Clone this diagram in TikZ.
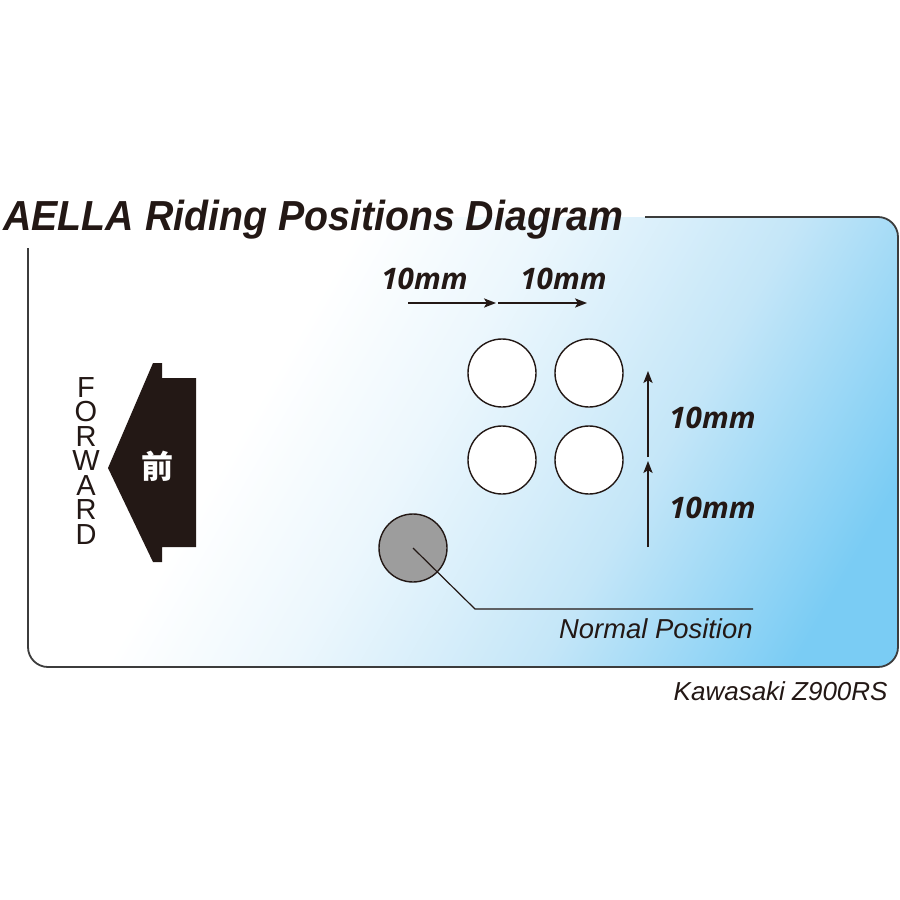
\documentclass[tikz,border=0pt]{standalone}
\usepackage{fontspec}
\usepackage{graphicx}
\usetikzlibrary{arrows.meta}
\setmainfont{Liberation Sans}
\newfontfamily\dimfont{Open Sans}
\newfontfamily\cjkfont{Noto Sans CJK JP}
\definecolor{skyblue}{RGB}{122,204,244}
\definecolor{midblue}{RGB}{196,230,248}
\definecolor{paleblue}{RGB}{215,238,250}
\definecolor{mistblue}{RGB}{236,247,253}
\definecolor{inkblack}{RGB}{35,24,21}
\definecolor{framegray}{RGB}{60,60,60}
\definecolor{normalgray}{RGB}{157,157,157}
\pgfdeclarehorizontalshading{boxglow}{100bp}{color(0bp)=(white); color(40bp)=(white); color(48bp)=(mistblue); color(54bp)=(paleblue); color(59bp)=(midblue); color(70bp)=(skyblue); color(100bp)=(skyblue)}

\begin{document}
\begin{tikzpicture}[x=0.5pt,y=-0.5pt,
  spot/.style={circle,draw=inkblack,line width=0.7pt,fill=white,minimum size=34pt,inner sep=0pt},
  dim/.style={font=\dimfont\bfseries\itshape\fontsize{14.8}{14.8}\selectfont,text=inkblack,inner sep=0pt},
  tip/.style={-{Stealth[length=6pt,width=4.6pt,inset=1.4pt]},line width=0.7pt,draw=inkblack}]
  \useasboundingbox (0,0) rectangle (900,900);

  \begin{scope}
    \clip[rounded corners=10pt] (28,217) -- (28,667) -- (898,667) -- (898,217) -- cycle;
    \shade[shading=boxglow,shading angle=-30] (-37,-58) rectangle (963,942);
  \end{scope}
  \draw[framegray,line width=0.9pt] (28,248)
  -- (28,647) arc[start angle=180,end angle=270,radius=10pt]
  -- (878,667) arc[start angle=270,end angle=360,radius=10pt]
  -- (898,237) arc[start angle=0,end angle=90,radius=10pt]
  -- (645,217);

  \node[anchor=base west,inner sep=0,text=inkblack] (title) at (3,230)
  {\scalebox{0.935}[1]{\fontsize{21}{21}\selectfont\bfseries\itshape AELLA Riding Positions Diagram}};

  \node[anchor=north,inner sep=0,align=center,text=inkblack,font=\fontsize{14.5}{12.25}\selectfont] (forward) at (86,377)
  {F\\O\\R\\W\\A\\R\\D};

  \fill[inkblack] (108,468)
  -- (153,363)
  -- (162,363)
  -- (162,378)
  -- (196,378)
  -- (196,547)
  -- (162,547)
  -- (162,562)
  -- (153,562)
  -- cycle;
  \node[text=white,inner sep=0,font=\cjkfont\bfseries\fontsize{16}{16}\selectfont] (front) at (157,466) {前};

  \node[spot] (p11) at (502,373) {};
  \node[spot] (p12) at (589,373) {};
  \node[spot] (p21) at (502,460) {};
  \node[spot] (p22) at (589,460) {};
  \node[spot,fill=normalgray] (normal) at (413,548) {};

  \coordinate (h0) at (408,303);
  \coordinate (h1) at (496,303);
  \coordinate (h2) at (498,303);
  \coordinate (h3) at (587,303);
  \draw[tip] (h0) -- (h1);
  \draw[tip] (h2) -- (h3);
  \node[dim,anchor=base west] (dx1) at (381,289) {10mm};
  \node[dim,anchor=base west] (dx2) at (520,289) {10mm};

  \coordinate (v0) at (648,547);
  \coordinate (v1) at (648,461);
  \coordinate (v2) at (648,457);
  \coordinate (v3) at (648,371);
  \draw[tip] (v0) -- (v1);
  \draw[tip] (v2) -- (v3);
  \node[dim,anchor=base west] (dy1) at (669,428) {10mm};
  \node[dim,anchor=base west] (dy2) at (669,518) {10mm};

  \coordinate (bend) at (475,609);
  \coordinate (leaderend) at (753,609);
  \draw[inkblack,line width=0.6pt] (normal.center) -- (bend) -- (leaderend);
  \node[anchor=base east,inner sep=0,text=inkblack,font=\itshape\fontsize{13.7}{13.7}\selectfont] (normaltxt) at (753,638) {Normal Position};

  \node[anchor=base east,inner sep=0,text=inkblack,font=\itshape\fontsize{13}{13}\selectfont] (model) at (888,700) {Kawasaki Z900RS};
\end{tikzpicture}
\end{document}
